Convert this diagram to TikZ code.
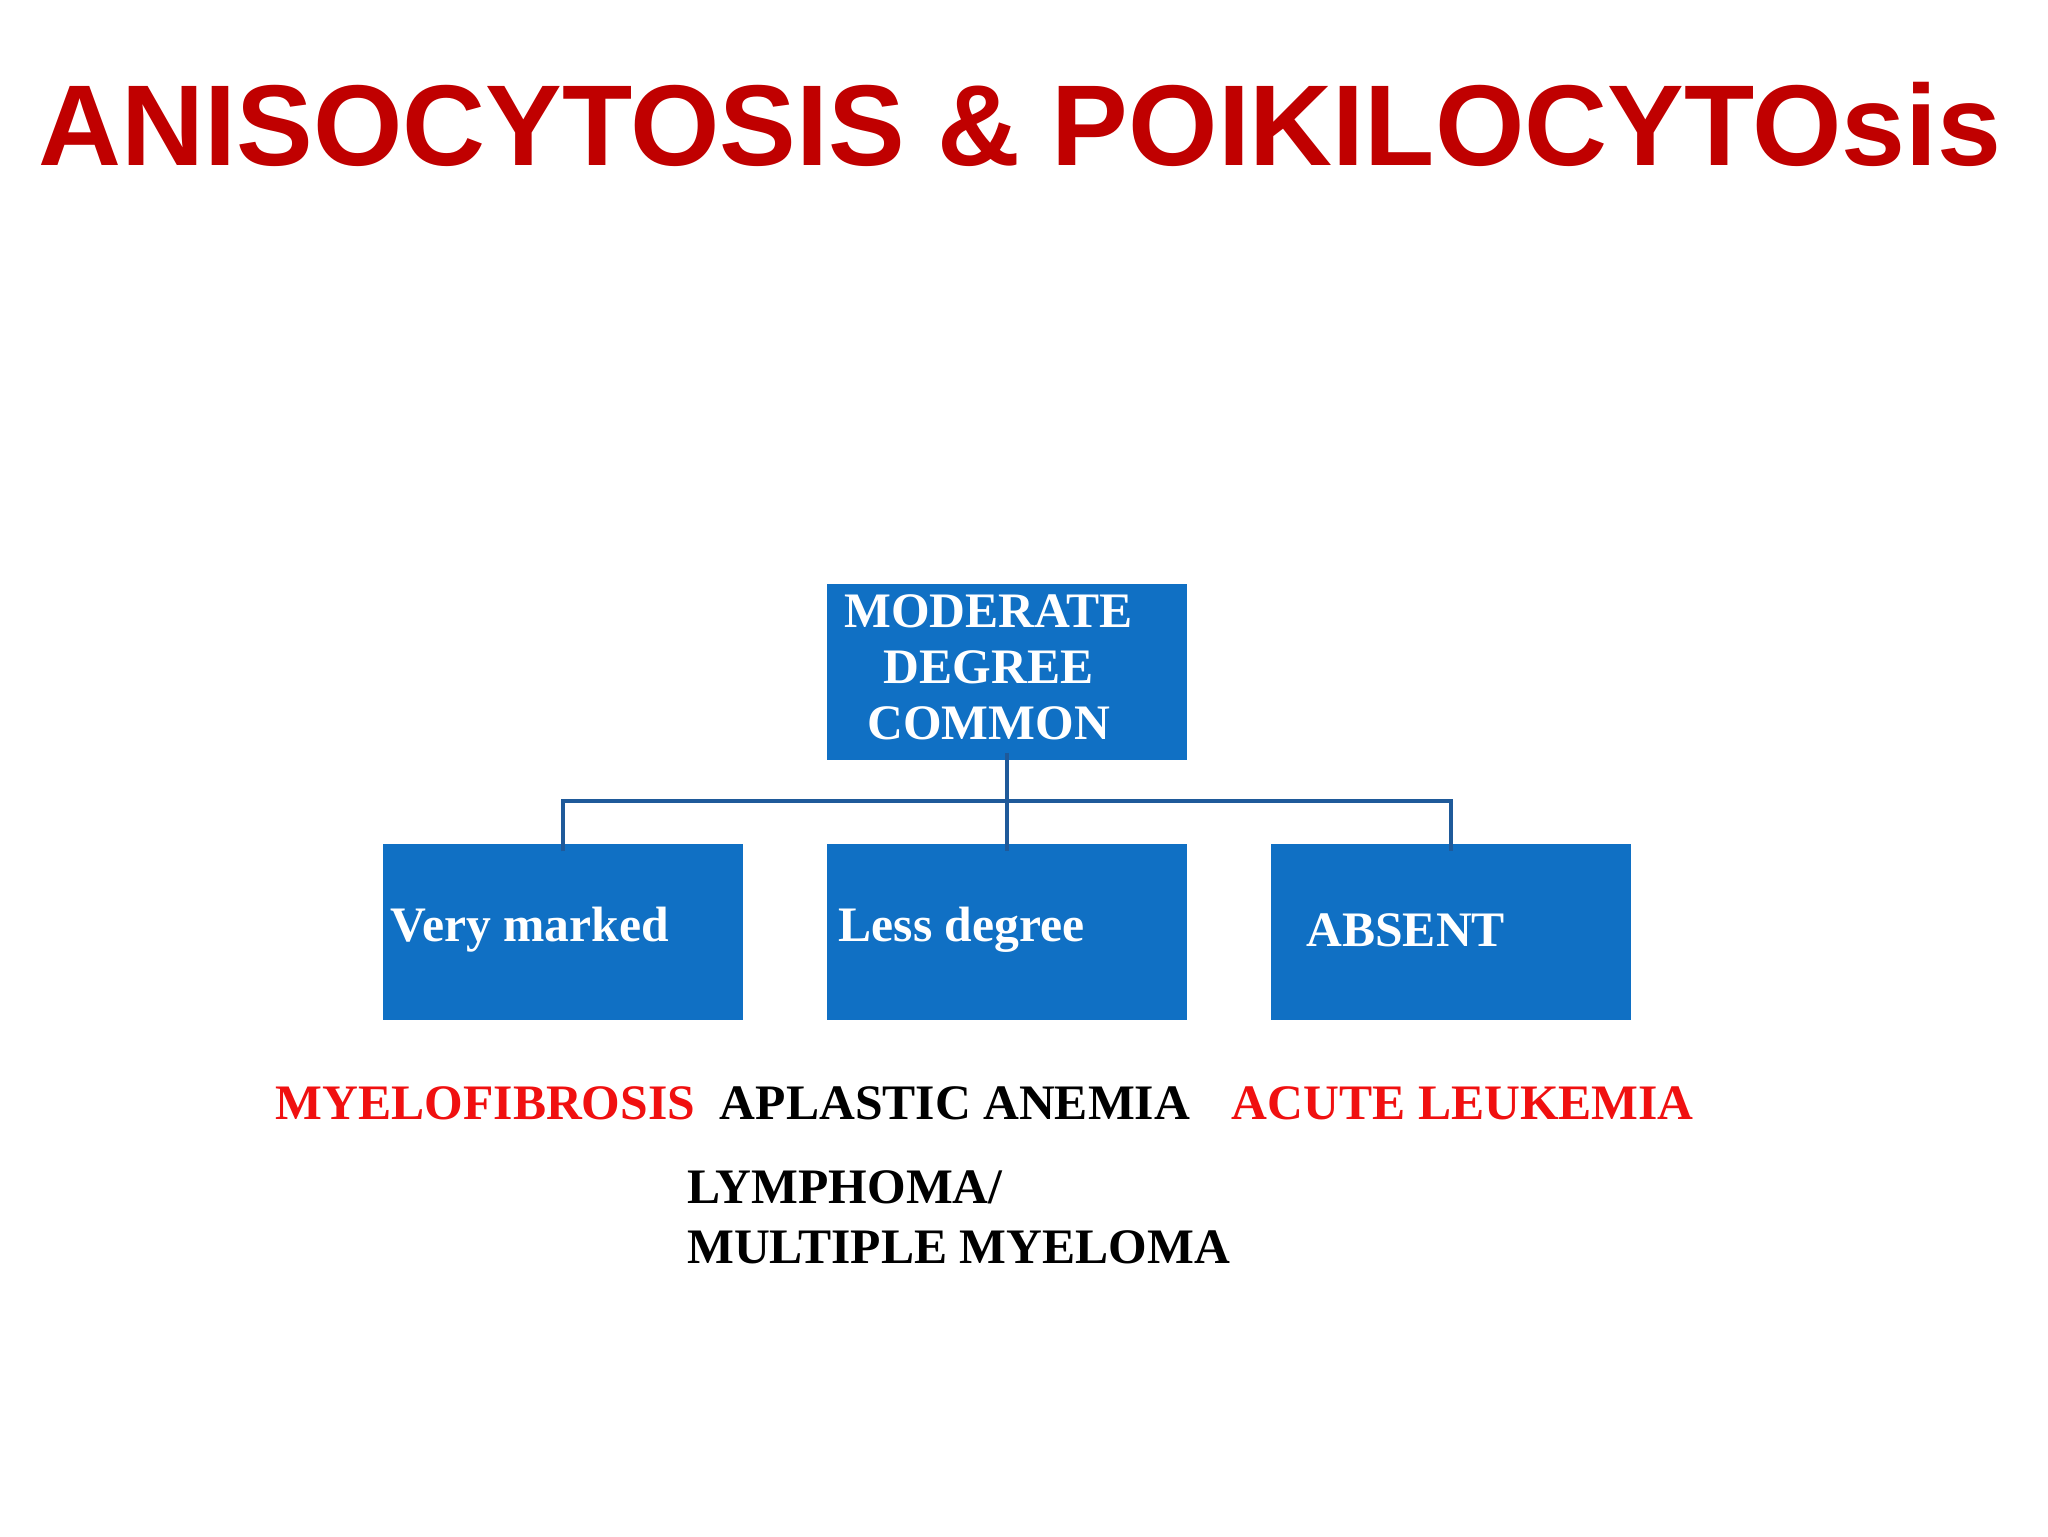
\documentclass[tikz,border=0pt]{standalone}
\usepackage{fontspec}
\setmainfont{Liberation Serif}
\newfontfamily\titlefont{Liberation Sans}
\definecolor{boxblue}{HTML}{1070C4}
\definecolor{linkblue}{HTML}{1F5A9A}
\definecolor{titlered}{HTML}{C00000}
\definecolor{labred}{HTML}{F01010}
\begin{document}
\begin{tikzpicture}[x=1pt,y=-1pt,
  bluebox/.style={fill=boxblue,draw=none,minimum width=276pt,minimum height=135pt,inner sep=0pt},
  boxtext/.style={text=white,font=\fontsize{38}{43}\selectfont\bfseries,anchor=west,inner sep=0pt},
  lab/.style={font=\fontsize{38}{46}\selectfont\bfseries,anchor=west,inner sep=0pt},
  link/.style={draw=linkblue,line width=3pt}]
\fill[white] (0,0) rectangle (1568,1176);
\node[text=titlered,font=\titlefont\fontsize{88}{96}\selectfont\bfseries] (title) at (781,95) {ANISOCYTOSIS \& POIKILOCYTOsis};
\node[bluebox] (top) at (771,514.5) {};
\node[bluebox] (b1) at (431,713.5) {};
\node[bluebox] (b2) at (771,713.5) {};
\node[bluebox] (b3) at (1111,713.5) {};
\node[text=white,font=\fontsize{38}{43}\selectfont\bfseries,align=center,inner sep=0pt] (toptext) at (757,511) {MODERATE\\DEGREE\\COMMON};
\node[boxtext] at (299,712) {Very marked};
\node[boxtext] at (642,712) {Less degree};
\node[boxtext] at (1000,712) {ABSENT};
\coordinate (j) at (771,613);
\draw[link] ([yshift=6pt]top.south) -- ([yshift=-6pt]b2.north);
\draw[link] ([yshift=-6pt]b1.north) |- (j) -| ([yshift=-6pt]b3.north);
\node[lab,text=labred] (l1) at (211,845) {MYELOFIBROSIS};
\node[lab] (l2) at (551,845) {APLASTIC ANEMIA};
\node[lab,text=labred] (l3) at (943,845) {ACUTE LEUKEMIA};
\node[lab,align=left] (l4) at (526,932) {LYMPHOMA/\\MULTIPLE MYELOMA};
\end{tikzpicture}
\end{document}
